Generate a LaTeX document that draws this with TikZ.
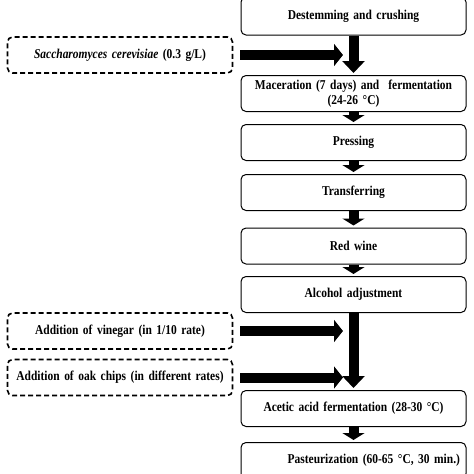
\documentclass[tikz,border=0pt]{standalone}
\usepackage{fontspec}
\setmainfont{Liberation Serif}[FakeStretch=0.85, WordSpace=0.8]
\usetikzlibrary{arrows.meta}
\tikzset{
    stepbox/.style={draw, line width=1pt, rounded corners=5pt, minimum width=225pt, minimum height=36pt,
        text width=213pt, align=center, font=\bfseries\fontsize{13.5}{16}\selectfont},
    addbox/.style={stepbox, line width=1.6pt, dash pattern=on 5pt off 3pt},
    flow/.style={line width=10pt, -{Triangle[width=22pt,length=#1]}},
    flow/.default=7pt
}
\begin{document}
\begin{tikzpicture}[x=1pt, y=-1pt]
    \useasboundingbox (0,0) rectangle (474,474);
    % main line (right)
    \node[stepbox, minimum height=38pt] (destem) at (353.5, 16) {Destemming and crushing};
    \node[stepbox] (mac) at (353.5, 93.5) {Maceration (7 days) and\ \ fermentation\\[-1pt](24-26 °C)};
    \node[stepbox] (press) at (353.5, 142.5) {Pressing};
    \node[stepbox] (trans) at (353.5, 192.5) {Transferring};
    \node[stepbox] (red) at (353.5, 246) {Red wine};
    \node[stepbox] (alc) at (353.5, 294.5) {Alcohol adjustment};
    \node[stepbox] (acet) at (353.5, 408.5) {Acetic acid fermentation (28-30 °C)};
    \node[stepbox, align=right] (past) at (353.5, 460.5) {Pasteurization (60-65 °C, 30 min.)};
    % additions (left)
    \node[addbox] (sacc) at (120, 55) {\textit{Saccharomyces cerevisiae} (0.3 g/L)};
    \node[addbox] (vin) at (120, 331) {Addition of vinegar (in 1/10 rate)};
    \node[addbox] (oak) at (120, 377.5) {Addition of oak chips (in different rates)};
    \coordinate (sacctip) at (343, 55);
    \coordinate (vintip) at (343, 331);
    \coordinate (oaktip) at (343, 377.5);

    % arrows down the line
    \draw[flow=12pt, shorten >=2pt] (destem) -- (mac);
    \draw[flow=12pt, shorten >=2pt] (alc) -- (acet);
    \foreach \a/\b in {mac/press, press/trans, trans/red, red/alc, acet/past}
        \draw[flow, shorten >=2pt] (\a) -- (\b);
    % arrows from the additions
    \foreach \p in {sacc, vin, oak}
        \draw[flow=9pt] ([xshift=7pt]\p.east) -- (\p tip);
\end{tikzpicture}
\end{document}
